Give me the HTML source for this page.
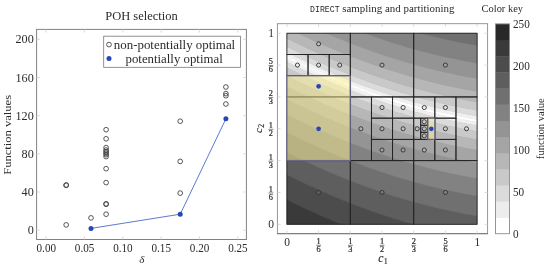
<!DOCTYPE html>
<html lang="en"><head><meta charset="utf-8"><title>DIRECT POH selection</title>
<style>
html,body{margin:0;padding:0;background:#fff;}
body{width:550px;height:268px;overflow:hidden;}
svg{display:block;font-family:"Liberation Serif", "DejaVu Serif", serif;fill:#2b2b2b;}
svg text{fill:#2b2b2b;stroke:none;}
</style></head><body>
<svg width="550" height="268" viewBox="0 0 550 268">
<rect width="550" height="268" fill="#fff"/>
<rect x="36.6" y="29.4" width="209.80" height="210.10" fill="#fff" stroke="#828282" stroke-width="1"/>
<path d="M46.10 239.5v-3.2M46.10 29.4v3.2M84.42 239.5v-3.2M84.42 29.4v3.2M122.74 239.5v-3.2M122.74 29.4v3.2M161.06 239.5v-3.2M161.06 29.4v3.2M199.38 239.5v-3.2M199.38 29.4v3.2M237.70 239.5v-3.2M237.70 29.4v3.2M36.6 230.20h3.2M246.4 230.20h-3.2M36.6 192.02h3.2M246.4 192.02h-3.2M36.6 153.84h3.2M246.4 153.84h-3.2M36.6 115.66h3.2M246.4 115.66h-3.2M36.6 77.48h3.2M246.4 77.48h-3.2M36.6 39.30h3.2M246.4 39.30h-3.2" stroke="#d2d2d2" stroke-width="0.8" fill="none"/>
<text x="33.8" y="234.30" font-size="12.2" text-anchor="end">0</text>
<text x="33.8" y="196.12" font-size="12.2" text-anchor="end">40</text>
<text x="33.8" y="157.94" font-size="12.2" text-anchor="end">80</text>
<text x="33.8" y="119.76" font-size="12.2" text-anchor="end">120</text>
<text x="33.8" y="81.58" font-size="12.2" text-anchor="end">160</text>
<text x="33.8" y="43.40" font-size="12.2" text-anchor="end">200</text>
<text x="46.30" y="251.7" font-size="12.2" text-anchor="middle" textLength="19.5" lengthAdjust="spacingAndGlyphs">0.00</text>
<text x="84.62" y="251.7" font-size="12.2" text-anchor="middle" textLength="19.5" lengthAdjust="spacingAndGlyphs">0.05</text>
<text x="122.94" y="251.7" font-size="12.2" text-anchor="middle" textLength="19.5" lengthAdjust="spacingAndGlyphs">0.10</text>
<text x="161.26" y="251.7" font-size="12.2" text-anchor="middle" textLength="19.5" lengthAdjust="spacingAndGlyphs">0.15</text>
<text x="199.58" y="251.7" font-size="12.2" text-anchor="middle" textLength="19.5" lengthAdjust="spacingAndGlyphs">0.20</text>
<text x="237.90" y="251.7" font-size="12.2" text-anchor="middle" textLength="19.5" lengthAdjust="spacingAndGlyphs">0.25</text>
<text transform="translate(10.7 134.9) rotate(-90)" font-size="10.8" text-anchor="middle" textLength="79.9" lengthAdjust="spacingAndGlyphs">Function values</text>
<text x="141.8" y="263.4" font-size="11" font-style="italic" text-anchor="middle">δ</text>
<text x="141.5" y="20.1" font-size="12" text-anchor="middle" textLength="72.4" lengthAdjust="spacingAndGlyphs">POH selection</text>
<polyline points="91.01,228.40 180.22,214.20 225.90,118.80" fill="none" stroke="#4a6ccc" stroke-width="0.9"/>
<circle cx="66.18" cy="185.00" r="2.35" fill="none" stroke="#3a3a3a" stroke-width="0.85"/>
<circle cx="66.18" cy="185.30" r="2.35" fill="none" stroke="#3a3a3a" stroke-width="0.85"/>
<circle cx="66.18" cy="224.90" r="2.35" fill="none" stroke="#3a3a3a" stroke-width="0.85"/>
<circle cx="91.01" cy="217.90" r="2.35" fill="none" stroke="#3a3a3a" stroke-width="0.85"/>
<circle cx="106.11" cy="129.70" r="2.35" fill="none" stroke="#3a3a3a" stroke-width="0.85"/>
<circle cx="106.11" cy="138.80" r="2.35" fill="none" stroke="#3a3a3a" stroke-width="0.85"/>
<circle cx="106.11" cy="147.60" r="2.35" fill="none" stroke="#3a3a3a" stroke-width="0.85"/>
<circle cx="106.11" cy="150.00" r="2.35" fill="none" stroke="#3a3a3a" stroke-width="0.85"/>
<circle cx="106.11" cy="151.60" r="2.35" fill="none" stroke="#3a3a3a" stroke-width="0.85"/>
<circle cx="106.11" cy="153.10" r="2.35" fill="none" stroke="#3a3a3a" stroke-width="0.85"/>
<circle cx="106.11" cy="154.60" r="2.35" fill="none" stroke="#3a3a3a" stroke-width="0.85"/>
<circle cx="106.11" cy="156.60" r="2.35" fill="none" stroke="#3a3a3a" stroke-width="0.85"/>
<circle cx="106.11" cy="168.70" r="2.35" fill="none" stroke="#3a3a3a" stroke-width="0.85"/>
<circle cx="106.11" cy="182.60" r="2.35" fill="none" stroke="#3a3a3a" stroke-width="0.85"/>
<circle cx="106.11" cy="203.80" r="2.35" fill="none" stroke="#3a3a3a" stroke-width="0.85"/>
<circle cx="106.11" cy="204.30" r="2.35" fill="none" stroke="#3a3a3a" stroke-width="0.85"/>
<circle cx="106.11" cy="214.20" r="2.35" fill="none" stroke="#3a3a3a" stroke-width="0.85"/>
<circle cx="180.22" cy="121.20" r="2.35" fill="none" stroke="#3a3a3a" stroke-width="0.85"/>
<circle cx="180.22" cy="161.40" r="2.35" fill="none" stroke="#3a3a3a" stroke-width="0.85"/>
<circle cx="180.22" cy="193.10" r="2.35" fill="none" stroke="#3a3a3a" stroke-width="0.85"/>
<circle cx="225.90" cy="87.00" r="2.35" fill="none" stroke="#3a3a3a" stroke-width="0.85"/>
<circle cx="225.90" cy="93.60" r="2.35" fill="none" stroke="#3a3a3a" stroke-width="0.85"/>
<circle cx="225.90" cy="95.70" r="2.35" fill="none" stroke="#3a3a3a" stroke-width="0.85"/>
<circle cx="225.90" cy="104.00" r="2.35" fill="none" stroke="#3a3a3a" stroke-width="0.85"/>
<circle cx="91.01" cy="228.40" r="2.5" fill="#2a46b4"/>
<circle cx="180.22" cy="214.20" r="2.5" fill="#2a46b4"/>
<circle cx="225.90" cy="118.80" r="2.5" fill="#2a46b4"/>
<rect x="103.7" y="36.2" width="136.7" height="31.1" fill="#fff" stroke="#777" stroke-width="0.8"/>
<circle cx="109.00" cy="44.60" r="2.35" fill="none" stroke="#3a3a3a" stroke-width="0.85"/>
<circle cx="109" cy="58.5" r="2.5" fill="#2a46b4"/>
<text x="113.8" y="48.7" font-size="12.8" textLength="121.4" lengthAdjust="spacingAndGlyphs">non-potentially optimal</text>
<text x="125.5" y="63.2" font-size="12.8" textLength="97.2" lengthAdjust="spacingAndGlyphs">potentially optimal</text>
<rect x="277.4" y="23.7" width="210.20" height="209.90" fill="#fff" stroke="#8c8c8c" stroke-width="0.9"/>
<path d="M276.95 233.6H488.05" stroke="#808080" stroke-width="1.1"/>
<path d="M286.90 233.6v-3.2M286.90 23.7v3.2M277.4 224.30h3.2M487.6 224.30h-3.2M318.60 233.6v-3.2M318.60 23.7v3.2M277.4 192.46h3.2M487.6 192.46h-3.2M350.30 233.6v-3.2M350.30 23.7v3.2M277.4 160.62h3.2M487.6 160.62h-3.2M382.00 233.6v-3.2M382.00 23.7v3.2M277.4 128.78h3.2M487.6 128.78h-3.2M413.70 233.6v-3.2M413.70 23.7v3.2M277.4 96.93h3.2M487.6 96.93h-3.2M445.40 233.6v-3.2M445.40 23.7v3.2M277.4 65.09h3.2M487.6 65.09h-3.2M477.10 233.6v-3.2M477.10 23.7v3.2M277.4 33.25h3.2M487.6 33.25h-3.2" stroke="#d2d2d2" stroke-width="0.8" fill="none"/>
<g stroke-width="0.35" stroke-linejoin="round">
<rect x="286.9" y="33.25" width="190.20" height="191.05" fill="#949494"/>
<path d="M466.0 120.1L470.8 121.1L477.1 121.9L477.1 120.1L477.1 119.5L470.8 118.7L469.1 118.2L464.4 117.2L458.6 116.2L458.1 116.1L451.7 114.8L449.8 114.3L445.4 113.2L441.0 112.4L439.1 111.9L432.7 110.6L432.5 110.4L426.4 109.0L425.3 108.5L420.0 107.1L418.5 106.6L413.7 105.2L411.5 104.7L407.4 103.4L404.8 102.7L401.0 101.6L398.5 100.8L394.7 99.6L392.4 98.9L388.3 97.6L386.8 96.9L382.0 95.4L379.9 95.0L375.7 93.6L373.3 93.1L369.3 91.6L366.9 93.1L369.3 93.9L372.1 95.0L375.7 96.2L377.3 96.9L382.0 98.4L383.9 98.9L388.3 100.3L390.2 100.8L394.7 102.2L396.4 102.7L401.0 104.1L402.6 104.7L407.4 106.1L408.8 106.6L413.7 108.0L415.4 108.5L420.0 109.8L422.7 110.4L426.4 111.4L430.5 112.4L432.7 113.0L438.8 114.3L439.1 114.4L445.4 115.7L446.9 116.2L451.7 117.4L456.2 118.2L458.1 118.6L464.4 119.6ZM362.0 91.1L363.0 91.5L366.7 91.1L363.5 89.2L363.0 89.0L359.9 89.2ZM353.3 87.3L356.6 88.9L358.7 87.3L356.6 86.5L354.2 85.4L350.3 84.0L347.3 83.4L344.0 81.9L341.7 83.4L344.0 84.3L346.3 85.4L350.3 86.8ZM337.6 81.5L337.6 81.5L338.1 81.5L339.0 79.6L337.6 79.1L335.1 77.6L331.3 76.2L327.5 75.7L324.9 73.8L323.6 75.7L324.9 76.3L327.4 77.6L331.3 79.1L335.0 79.6ZM315.4 71.8L318.6 73.3L321.3 71.8L318.6 70.8ZM310.5 69.9L312.3 70.6L314.9 69.9L312.3 68.3ZM302.8 66.1L305.9 67.5L308.6 66.1L305.9 65.0ZM298.4 64.1L299.6 64.6L301.7 64.1L299.6 62.2L299.6 62.2L299.5 62.2ZM289.5 60.3L293.2 61.7L297.0 60.3L293.2 58.8ZM286.9 56.4L286.9 58.2L288.2 56.4L286.9 55.8Z" fill="#ffffff" stroke="#ffffff" fill-rule="evenodd"/>
<path d="M468.1 124.0L470.8 124.5L477.1 125.5L477.1 124.0L477.1 122.0L477.1 121.9L470.8 121.1L466.0 120.1L464.4 119.6L458.1 118.6L456.2 118.2L451.7 117.4L446.9 116.2L445.4 115.7L439.1 114.4L438.8 114.3L432.7 113.0L430.5 112.4L426.4 111.4L422.7 110.4L420.0 109.8L415.4 108.5L413.7 108.0L408.8 106.6L407.4 106.1L402.6 104.7L401.0 104.1L396.4 102.7L394.7 102.2L390.2 100.8L388.3 100.3L383.9 98.9L382.0 98.4L377.3 96.9L375.7 96.2L372.1 95.0L369.3 93.9L366.9 93.1L369.3 91.6L373.3 93.1L375.7 93.6L379.9 95.0L382.0 95.4L386.8 96.9L388.3 97.6L392.4 98.9L394.7 99.6L398.5 100.8L401.0 101.6L404.8 102.7L407.4 103.4L411.5 104.7L413.7 105.2L418.5 106.6L420.0 107.1L425.3 108.5L426.4 109.0L432.5 110.4L432.7 110.6L439.1 111.9L441.0 112.4L445.4 113.2L449.8 114.3L451.7 114.8L458.1 116.1L458.6 116.2L464.4 117.2L469.1 118.2L470.8 118.7L477.1 119.5L477.1 118.2L477.1 116.2L477.1 116.1L470.8 115.0L467.0 114.3L464.4 113.8L458.1 112.6L457.0 112.4L451.7 111.3L447.9 110.4L445.4 109.9L439.3 108.5L439.1 108.5L432.7 106.9L431.4 106.6L426.4 105.3L423.8 104.7L420.0 103.6L416.6 102.7L413.7 101.9L409.7 100.8L407.4 100.1L403.1 98.9L401.0 98.2L396.8 96.9L394.7 96.3L390.7 95.0L388.3 94.3L384.8 93.1L382.0 92.2L379.0 91.1L375.7 90.0L373.4 89.2L369.3 87.8L367.9 87.3L363.0 85.5L362.6 85.4L357.4 83.4L356.6 83.1L352.5 81.5L350.3 80.7L347.6 79.6L344.0 78.2L342.7 77.6L337.8 75.7L337.6 75.6L333.4 73.8L331.3 72.9L328.9 71.8L324.9 70.2L324.3 69.9L319.9 68.0L318.6 67.4L315.7 66.1L312.3 64.6L311.4 64.1L307.2 62.2L305.9 61.6L303.2 60.3L299.6 58.6L299.0 58.3L295.1 56.4L293.2 55.5L291.3 54.5L287.2 52.5L286.9 52.4L286.9 52.5L286.9 54.5L286.9 55.8L288.2 56.4L286.9 58.2L286.9 58.3L286.9 60.3L286.9 61.9L287.5 62.2L291.3 64.1L293.2 65.0L295.2 66.1L299.4 68.0L299.6 68.1L303.3 69.9L305.9 71.1L307.4 71.8L311.7 73.8L312.3 74.0L315.8 75.7L318.6 76.9L320.1 77.6L324.7 79.6L324.9 79.7L329.0 81.5L331.3 82.4L333.5 83.4L337.6 85.1L338.3 85.4L343.0 87.3L344.0 87.7L347.8 89.2L350.3 90.2L352.7 91.1L356.6 92.6L357.8 93.1L363.0 95.0L363.1 95.0L368.3 96.9L369.3 97.3L373.7 98.9L375.7 99.5L379.3 100.8L382.0 101.7L385.1 102.7L388.3 103.8L391.1 104.7L394.7 105.8L397.2 106.6L401.0 107.7L403.6 108.5L407.4 109.6L410.3 110.4L413.7 111.4L417.2 112.4L420.0 113.1L424.5 114.3L426.4 114.8L432.2 116.2L432.7 116.4L439.1 117.9L440.2 118.2L445.4 119.4L448.8 120.1L451.7 120.7L458.1 122.0L458.1 122.0L464.4 123.3ZM293.2 61.7L289.5 60.3L293.2 58.8L297.0 60.3ZM299.6 64.6L298.4 64.1L299.5 62.2L299.6 62.2L299.6 62.2L301.7 64.1ZM305.9 67.5L302.8 66.1L305.9 65.0L308.6 66.1ZM312.3 70.6L310.5 69.9L312.3 68.3L314.9 69.9ZM318.6 73.3L315.4 71.8L318.6 70.8L321.3 71.8ZM337.6 81.5L337.6 81.5L335.0 79.6L331.3 79.1L327.4 77.6L324.9 76.3L323.6 75.7L324.9 73.8L327.5 75.7L331.3 76.2L335.1 77.6L337.6 79.1L339.0 79.6L338.1 81.5ZM356.6 88.9L353.3 87.3L350.3 86.8L346.3 85.4L344.0 84.3L341.7 83.4L344.0 81.9L347.3 83.4L350.3 84.0L354.2 85.4L356.6 86.5L358.7 87.3ZM363.0 91.5L362.0 91.1L359.9 89.2L363.0 89.0L363.5 89.2L366.7 91.1Z" fill="#ededed" stroke="#ededed" fill-rule="evenodd"/>
<path d="M467.7 129.7L470.8 130.3L477.1 131.4L477.1 129.7L477.1 127.8L477.1 125.9L477.1 125.5L470.8 124.5L468.1 124.0L464.4 123.3L458.1 122.0L458.1 122.0L451.7 120.7L448.8 120.1L445.4 119.4L440.2 118.2L439.1 117.9L432.7 116.4L432.2 116.2L426.4 114.8L424.5 114.3L420.0 113.1L417.2 112.4L413.7 111.4L410.3 110.4L407.4 109.6L403.6 108.5L401.0 107.7L397.2 106.6L394.7 105.8L391.1 104.7L388.3 103.8L385.1 102.7L382.0 101.7L379.3 100.8L375.7 99.5L373.7 98.9L369.3 97.3L368.3 96.9L363.1 95.0L363.0 95.0L357.8 93.1L356.6 92.6L352.7 91.1L350.3 90.2L347.8 89.2L344.0 87.7L343.0 87.3L338.3 85.4L337.6 85.1L333.5 83.4L331.3 82.4L329.0 81.5L324.9 79.7L324.7 79.6L320.1 77.6L318.6 76.9L315.8 75.7L312.3 74.0L311.7 73.8L307.4 71.8L305.9 71.1L303.3 69.9L299.6 68.1L299.4 68.0L295.2 66.1L293.2 65.0L291.3 64.1L287.5 62.2L286.9 61.9L286.9 62.2L286.9 64.1L286.9 66.1L286.9 67.7L287.4 68.0L291.2 69.9L293.2 70.9L295.2 71.8L299.2 73.8L299.6 73.9L303.2 75.7L305.9 77.0L307.3 77.6L311.5 79.6L312.3 79.9L315.7 81.5L318.6 82.8L320.0 83.4L324.5 85.4L324.9 85.6L328.9 87.3L331.3 88.3L333.4 89.2L337.6 90.9L338.1 91.1L342.8 93.1L344.0 93.5L347.6 95.0L350.3 96.0L352.6 96.9L356.6 98.5L357.6 98.9L362.8 100.8L363.0 100.8L368.1 102.7L369.3 103.2L373.5 104.7L375.7 105.4L379.1 106.6L382.0 107.6L384.9 108.5L388.3 109.6L390.9 110.4L394.7 111.7L397.0 112.4L401.0 113.6L403.4 114.3L407.4 115.5L410.0 116.2L413.7 117.3L417.0 118.2L420.0 119.0L424.2 120.1L426.4 120.7L431.8 122.0L432.7 122.2L439.1 123.8L439.9 124.0L445.4 125.2L448.4 125.9L451.7 126.6L457.7 127.8L458.1 127.9L464.4 129.2ZM467.0 114.3L470.8 115.0L477.1 116.1L477.1 114.3L477.1 112.4L477.1 110.4L477.1 110.2L470.8 109.1L467.4 108.5L464.4 108.0L458.1 106.7L457.4 106.6L451.7 105.4L448.3 104.7L445.4 104.0L439.7 102.7L439.1 102.6L432.7 101.1L431.7 100.8L426.4 99.5L424.1 98.9L420.0 97.8L416.9 96.9L413.7 96.0L410.0 95.0L407.4 94.2L403.4 93.1L401.0 92.4L397.0 91.1L394.7 90.4L390.9 89.2L388.3 88.4L385.0 87.3L382.0 86.3L379.2 85.4L375.7 84.2L373.6 83.4L369.3 81.9L368.1 81.5L363.0 79.6L362.8 79.6L357.6 77.6L356.6 77.3L352.6 75.7L350.3 74.8L347.7 73.8L344.0 72.3L342.8 71.8L338.0 69.9L337.6 69.7L333.5 68.0L331.3 67.1L329.0 66.1L324.9 64.4L324.4 64.1L320.1 62.2L318.6 61.6L315.8 60.3L312.3 58.7L311.5 58.3L307.3 56.4L305.9 55.8L303.3 54.5L299.6 52.8L299.1 52.5L295.2 50.6L293.2 49.7L291.3 48.7L287.3 46.8L286.9 46.5L286.9 46.8L286.9 48.7L286.9 50.6L286.9 52.4L287.2 52.5L291.3 54.5L293.2 55.5L295.1 56.4L299.0 58.3L299.6 58.6L303.2 60.3L305.9 61.6L307.2 62.2L311.4 64.1L312.3 64.6L315.7 66.1L318.6 67.4L319.9 68.0L324.3 69.9L324.9 70.2L328.9 71.8L331.3 72.9L333.4 73.8L337.6 75.6L337.8 75.7L342.7 77.6L344.0 78.2L347.6 79.6L350.3 80.7L352.5 81.5L356.6 83.1L357.4 83.4L362.6 85.4L363.0 85.5L367.9 87.3L369.3 87.8L373.4 89.2L375.7 90.0L379.0 91.1L382.0 92.2L384.8 93.1L388.3 94.3L390.7 95.0L394.7 96.3L396.8 96.9L401.0 98.2L403.1 98.9L407.4 100.1L409.7 100.8L413.7 101.9L416.6 102.7L420.0 103.6L423.8 104.7L426.4 105.3L431.4 106.6L432.7 106.9L439.1 108.5L439.3 108.5L445.4 109.9L447.9 110.4L451.7 111.3L457.0 112.4L458.1 112.6L464.4 113.8Z" fill="#dbdbdb" stroke="#dbdbdb" fill-rule="evenodd"/>
<path d="M475.7 139.4L477.1 139.6L477.1 139.4L477.1 137.5L477.1 135.5L477.1 133.6L477.1 131.7L477.1 131.4L470.8 130.3L467.7 129.7L464.4 129.2L458.1 127.9L457.7 127.8L451.7 126.6L448.4 125.9L445.4 125.2L439.9 124.0L439.1 123.8L432.7 122.2L431.8 122.0L426.4 120.7L424.2 120.1L420.0 119.0L417.0 118.2L413.7 117.3L410.0 116.2L407.4 115.5L403.4 114.3L401.0 113.6L397.0 112.4L394.7 111.7L390.9 110.4L388.3 109.6L384.9 108.5L382.0 107.6L379.1 106.6L375.7 105.4L373.5 104.7L369.3 103.2L368.1 102.7L363.0 100.8L362.8 100.8L357.6 98.9L356.6 98.5L352.6 96.9L350.3 96.0L347.6 95.0L344.0 93.5L342.8 93.1L338.1 91.1L337.6 90.9L333.4 89.2L331.3 88.3L328.9 87.3L324.9 85.6L324.5 85.4L320.0 83.4L318.6 82.8L315.7 81.5L312.3 79.9L311.5 79.6L307.3 77.6L305.9 77.0L303.2 75.7L299.6 73.9L299.2 73.8L295.2 71.8L293.2 70.9L291.2 69.9L287.4 68.0L286.9 67.7L286.9 68.0L286.9 69.9L286.9 71.8L286.9 73.8L286.9 75.7L286.9 76.0L290.2 77.6L293.2 79.1L294.2 79.6L298.1 81.5L299.6 82.2L302.1 83.4L305.9 85.2L306.3 85.4L310.4 87.3L312.3 88.1L314.6 89.2L318.6 91.0L318.9 91.1L323.3 93.1L324.9 93.8L327.7 95.0L331.3 96.5L332.2 96.9L336.9 98.9L337.6 99.2L341.6 100.8L344.0 101.8L346.4 102.7L350.3 104.3L351.3 104.7L356.3 106.6L356.6 106.7L361.4 108.5L363.0 109.1L366.7 110.4L369.3 111.4L372.1 112.4L375.7 113.6L377.6 114.3L382.0 115.8L383.4 116.2L388.3 117.9L389.3 118.2L394.7 119.9L395.4 120.1L401.0 121.8L401.7 122.0L407.4 123.7L408.2 124.0L413.7 125.5L415.1 125.9L420.0 127.2L422.2 127.8L426.4 128.9L429.7 129.7L432.7 130.5L437.7 131.7L439.1 132.0L445.4 133.5L446.1 133.6L451.7 134.8L455.1 135.5L458.1 136.1L464.4 137.4L464.9 137.5L470.8 138.5ZM467.4 108.5L470.8 109.1L477.1 110.2L477.1 108.5L477.1 106.6L477.1 104.7L477.1 102.7L477.1 102.0L470.8 100.9L470.2 100.8L464.4 99.7L460.0 98.9L458.1 98.5L451.7 97.2L450.6 96.9L445.4 95.8L442.0 95.0L439.1 94.3L433.8 93.1L432.7 92.8L426.4 91.2L426.1 91.1L420.0 89.6L418.8 89.2L413.7 87.8L411.8 87.3L407.4 86.0L405.1 85.4L401.0 84.1L398.7 83.4L394.7 82.2L392.5 81.5L388.3 80.2L386.5 79.6L382.0 78.1L380.7 77.6L375.7 75.9L375.0 75.7L369.5 73.8L369.3 73.7L364.2 71.8L363.0 71.4L359.0 69.9L356.6 69.0L353.9 68.0L350.3 66.6L349.0 66.1L344.1 64.1L344.0 64.1L339.3 62.2L337.6 61.5L334.7 60.3L331.3 58.8L330.1 58.3L325.6 56.4L324.9 56.1L321.2 54.5L318.6 53.3L316.9 52.5L312.6 50.6L312.3 50.5L308.5 48.7L305.9 47.5L304.3 46.8L300.2 44.8L299.6 44.5L296.3 42.9L293.2 41.5L292.3 41.0L288.4 39.0L286.9 38.3L286.9 39.0L286.9 41.0L286.9 42.9L286.9 44.8L286.9 46.5L287.3 46.8L291.3 48.7L293.2 49.7L295.2 50.6L299.1 52.5L299.6 52.8L303.3 54.5L305.9 55.8L307.3 56.4L311.5 58.3L312.3 58.7L315.8 60.3L318.6 61.6L320.1 62.2L324.4 64.1L324.9 64.4L329.0 66.1L331.3 67.1L333.5 68.0L337.6 69.7L338.0 69.9L342.8 71.8L344.0 72.3L347.7 73.8L350.3 74.8L352.6 75.7L356.6 77.3L357.6 77.6L362.8 79.6L363.0 79.6L368.1 81.5L369.3 81.9L373.6 83.4L375.7 84.2L379.2 85.4L382.0 86.3L385.0 87.3L388.3 88.4L390.9 89.2L394.7 90.4L397.0 91.1L401.0 92.4L403.4 93.1L407.4 94.2L410.0 95.0L413.7 96.0L416.9 96.9L420.0 97.8L424.1 98.9L426.4 99.5L431.7 100.8L432.7 101.1L439.1 102.6L439.7 102.7L445.4 104.0L448.3 104.7L451.7 105.4L457.4 106.6L458.1 106.7L464.4 108.0Z" fill="#c9c9c9" stroke="#c9c9c9" fill-rule="evenodd"/>
<path d="M470.3 149.0L470.8 149.1L477.1 150.2L477.1 149.0L477.1 147.1L477.1 145.2L477.1 143.2L477.1 141.3L477.1 139.6L475.7 139.4L470.8 138.5L464.9 137.5L464.4 137.4L458.1 136.1L455.1 135.5L451.7 134.8L446.1 133.6L445.4 133.5L439.1 132.0L437.7 131.7L432.7 130.5L429.7 129.7L426.4 128.9L422.2 127.8L420.0 127.2L415.1 125.9L413.7 125.5L408.2 124.0L407.4 123.7L401.7 122.0L401.0 121.8L395.4 120.1L394.7 119.9L389.3 118.2L388.3 117.9L383.4 116.2L382.0 115.8L377.6 114.3L375.7 113.6L372.1 112.4L369.3 111.4L366.7 110.4L363.0 109.1L361.4 108.5L356.6 106.7L356.3 106.6L351.3 104.7L350.3 104.3L346.4 102.7L344.0 101.8L341.6 100.8L337.6 99.2L336.9 98.9L332.2 96.9L331.3 96.5L327.7 95.0L324.9 93.8L323.3 93.1L318.9 91.1L318.6 91.0L314.6 89.2L312.3 88.1L310.4 87.3L306.3 85.4L305.9 85.2L302.1 83.4L299.6 82.2L298.1 81.5L294.2 79.6L293.2 79.1L290.2 77.6L286.9 76.0L286.9 77.6L286.9 79.6L286.9 81.5L286.9 83.4L286.9 85.4L286.9 86.5L288.4 87.3L292.3 89.2L293.2 89.7L296.2 91.1L299.6 92.8L300.2 93.1L304.3 95.0L305.9 95.8L308.4 96.9L312.3 98.7L312.6 98.9L316.8 100.8L318.6 101.6L321.1 102.7L324.9 104.4L325.6 104.7L330.0 106.6L331.3 107.1L334.6 108.5L337.6 109.8L339.3 110.4L344.0 112.4L344.0 112.4L348.9 114.3L350.3 114.9L353.8 116.2L356.6 117.3L358.9 118.2L363.0 119.7L364.1 120.1L369.3 122.0L369.4 122.0L374.9 124.0L375.7 124.2L380.5 125.9L382.0 126.4L386.3 127.8L388.3 128.5L392.3 129.7L394.7 130.5L398.6 131.7L401.0 132.4L405.0 133.6L407.4 134.3L411.7 135.5L413.7 136.1L418.7 137.5L420.0 137.8L426.0 139.4L426.4 139.5L432.7 141.1L433.7 141.3L439.1 142.6L441.9 143.2L445.4 144.0L450.6 145.2L451.7 145.4L458.1 146.7L460.0 147.1L464.4 148.0ZM470.2 100.8L470.8 100.9L477.1 102.0L477.1 100.8L477.1 98.9L477.1 96.9L477.1 95.0L477.1 93.1L477.1 91.4L475.6 91.1L470.8 90.3L464.8 89.2L464.4 89.1L458.1 87.9L455.1 87.3L451.7 86.6L446.1 85.4L445.4 85.2L439.1 83.7L437.7 83.4L432.7 82.2L429.8 81.5L426.4 80.6L422.3 79.6L420.0 79.0L415.2 77.6L413.7 77.2L408.3 75.7L407.4 75.4L401.8 73.8L401.0 73.5L395.5 71.8L394.7 71.6L389.4 69.9L388.3 69.6L383.5 68.0L382.0 67.5L377.8 66.1L375.7 65.3L372.2 64.1L369.3 63.1L366.8 62.2L363.0 60.8L361.5 60.3L356.6 58.4L356.4 58.3L351.4 56.4L350.3 56.0L346.5 54.5L344.0 53.5L341.7 52.5L337.6 50.9L336.9 50.6L332.3 48.7L331.3 48.3L327.8 46.8L324.9 45.5L323.4 44.8L318.9 42.9L318.6 42.7L314.7 41.0L312.3 39.9L310.5 39.0L306.3 37.1L305.9 36.9L302.2 35.2L299.6 33.9L298.2 33.2L293.2 33.2L286.9 33.2L286.9 35.2L286.9 37.1L286.9 38.3L288.4 39.0L292.3 41.0L293.2 41.5L296.3 42.9L299.6 44.5L300.2 44.8L304.3 46.8L305.9 47.5L308.5 48.7L312.3 50.5L312.6 50.6L316.9 52.5L318.6 53.3L321.2 54.5L324.9 56.1L325.6 56.4L330.1 58.3L331.3 58.8L334.7 60.3L337.6 61.5L339.3 62.2L344.0 64.1L344.1 64.1L349.0 66.1L350.3 66.6L353.9 68.0L356.6 69.0L359.0 69.9L363.0 71.4L364.2 71.8L369.3 73.7L369.5 73.8L375.0 75.7L375.7 75.9L380.7 77.6L382.0 78.1L386.5 79.6L388.3 80.2L392.5 81.5L394.7 82.2L398.7 83.4L401.0 84.1L405.1 85.4L407.4 86.0L411.8 87.3L413.7 87.8L418.8 89.2L420.0 89.6L426.1 91.1L426.4 91.2L432.7 92.8L433.8 93.1L439.1 94.3L442.0 95.0L445.4 95.8L450.6 96.9L451.7 97.2L458.1 98.5L460.0 98.9L464.4 99.7Z" fill="#b7b7b7" stroke="#b7b7b7" fill-rule="evenodd"/>
<path d="M473.5 162.5L477.1 163.2L477.1 162.5L477.1 160.6L477.1 158.7L477.1 156.8L477.1 154.8L477.1 152.9L477.1 151.0L477.1 150.2L470.8 149.1L470.3 149.0L464.4 148.0L460.0 147.1L458.1 146.7L451.7 145.4L450.6 145.2L445.4 144.0L441.9 143.2L439.1 142.6L433.7 141.3L432.7 141.1L426.4 139.5L426.0 139.4L420.0 137.8L418.7 137.5L413.7 136.1L411.7 135.5L407.4 134.3L405.0 133.6L401.0 132.4L398.6 131.7L394.7 130.5L392.3 129.7L388.3 128.5L386.3 127.8L382.0 126.4L380.5 125.9L375.7 124.2L374.9 124.0L369.4 122.0L369.3 122.0L364.1 120.1L363.0 119.7L358.9 118.2L356.6 117.3L353.8 116.2L350.3 114.9L348.9 114.3L344.0 112.4L344.0 112.4L339.3 110.4L337.6 109.8L334.6 108.5L331.3 107.1L330.0 106.6L325.6 104.7L324.9 104.4L321.1 102.7L318.6 101.6L316.8 100.8L312.6 98.9L312.3 98.7L308.4 96.9L305.9 95.8L304.3 95.0L300.2 93.1L299.6 92.8L296.2 91.1L293.2 89.7L292.3 89.2L288.4 87.3L286.9 86.5L286.9 87.3L286.9 89.2L286.9 91.1L286.9 93.1L286.9 95.0L286.9 96.9L286.9 98.9L286.9 99.5L289.5 100.8L293.2 102.6L293.4 102.7L297.4 104.7L299.6 105.7L301.4 106.6L305.5 108.5L305.9 108.7L309.6 110.4L312.3 111.7L313.8 112.4L318.1 114.3L318.6 114.5L322.4 116.2L324.9 117.3L326.8 118.2L331.3 120.1L331.4 120.1L335.9 122.0L337.6 122.7L340.6 124.0L344.0 125.3L345.4 125.9L350.3 127.8L350.3 127.8L355.3 129.7L356.6 130.3L360.4 131.7L363.0 132.6L365.6 133.6L369.3 134.9L371.0 135.5L375.7 137.2L376.5 137.5L382.0 139.3L382.2 139.4L388.1 141.3L388.3 141.4L394.1 143.2L394.7 143.4L400.4 145.2L401.0 145.4L406.9 147.1L407.4 147.2L413.7 149.0L413.7 149.0L420.0 150.8L420.8 151.0L426.4 152.4L428.2 152.9L432.7 154.0L436.1 154.8L439.1 155.5L444.4 156.8L445.4 157.0L451.7 158.4L453.3 158.7L458.1 159.7L462.9 160.6L464.4 160.9L470.8 162.1ZM475.6 91.1L477.1 91.4L477.1 91.1L477.1 89.2L477.1 87.3L477.1 85.4L477.1 83.4L477.1 81.5L477.1 79.6L477.1 78.5L472.4 77.6L470.8 77.4L464.4 76.2L462.0 75.7L458.1 74.9L452.4 73.8L451.7 73.6L445.4 72.3L443.6 71.8L439.1 70.8L435.4 69.9L432.7 69.3L427.6 68.0L426.4 67.7L420.2 66.1L420.0 66.0L413.7 64.3L413.2 64.1L407.4 62.5L406.4 62.2L401.0 60.6L400.0 60.3L394.7 58.6L393.7 58.3L388.3 56.6L387.7 56.4L382.0 54.5L381.8 54.5L376.1 52.5L375.7 52.4L370.6 50.6L369.3 50.2L365.3 48.7L363.0 47.9L360.1 46.8L356.6 45.5L354.9 44.8L350.3 43.1L349.9 42.9L345.0 41.0L344.0 40.5L340.3 39.0L337.6 38.0L335.6 37.1L331.3 35.3L331.0 35.2L326.5 33.2L324.9 33.2L318.6 33.2L312.3 33.2L305.9 33.2L299.6 33.2L298.2 33.2L299.6 33.9L302.2 35.2L305.9 36.9L306.3 37.1L310.5 39.0L312.3 39.9L314.7 41.0L318.6 42.7L318.9 42.9L323.4 44.8L324.9 45.5L327.8 46.8L331.3 48.3L332.3 48.7L336.9 50.6L337.6 50.9L341.7 52.5L344.0 53.5L346.5 54.5L350.3 56.0L351.4 56.4L356.4 58.3L356.6 58.4L361.5 60.3L363.0 60.8L366.8 62.2L369.3 63.1L372.2 64.1L375.7 65.3L377.8 66.1L382.0 67.5L383.5 68.0L388.3 69.6L389.4 69.9L394.7 71.6L395.5 71.8L401.0 73.5L401.8 73.8L407.4 75.4L408.3 75.7L413.7 77.2L415.2 77.6L420.0 79.0L422.3 79.6L426.4 80.6L429.8 81.5L432.7 82.2L437.7 83.4L439.1 83.7L445.4 85.2L446.1 85.4L451.7 86.6L455.1 87.3L458.1 87.9L464.4 89.1L464.8 89.2L470.8 90.3Z" fill="#a5a5a5" stroke="#a5a5a5" fill-rule="evenodd"/>
<path d="M474.3 178.0L477.1 178.5L477.1 178.0L477.1 176.1L477.1 174.1L477.1 172.2L477.1 170.3L477.1 168.3L477.1 166.4L477.1 164.5L477.1 163.2L473.5 162.5L470.8 162.1L464.4 160.9L462.9 160.6L458.1 159.7L453.3 158.7L451.7 158.4L445.4 157.0L444.4 156.8L439.1 155.5L436.1 154.8L432.7 154.0L428.2 152.9L426.4 152.4L420.8 151.0L420.0 150.8L413.7 149.0L413.7 149.0L407.4 147.2L406.9 147.1L401.0 145.4L400.4 145.2L394.7 143.4L394.1 143.2L388.3 141.4L388.1 141.3L382.2 139.4L382.0 139.3L376.5 137.5L375.7 137.2L371.0 135.5L369.3 134.9L365.6 133.6L363.0 132.6L360.4 131.7L356.6 130.3L355.3 129.7L350.3 127.8L350.3 127.8L345.4 125.9L344.0 125.3L340.6 124.0L337.6 122.7L335.9 122.0L331.4 120.1L331.3 120.1L326.8 118.2L324.9 117.3L322.4 116.2L318.6 114.5L318.1 114.3L313.8 112.4L312.3 111.7L309.6 110.4L305.9 108.7L305.5 108.5L301.4 106.6L299.6 105.7L297.4 104.7L293.4 102.7L293.2 102.6L289.5 100.8L286.9 99.5L286.9 100.8L286.9 102.7L286.9 104.7L286.9 106.6L286.9 108.5L286.9 110.4L286.9 112.4L286.9 114.3L286.9 114.8L289.8 116.2L293.2 117.9L293.7 118.2L297.6 120.1L299.6 121.0L301.7 122.0L305.7 124.0L305.9 124.0L309.9 125.9L312.3 127.0L314.1 127.8L318.4 129.7L318.6 129.8L322.7 131.7L324.9 132.6L327.2 133.6L331.3 135.4L331.7 135.5L336.3 137.5L337.6 138.0L341.0 139.4L344.0 140.6L345.7 141.3L350.3 143.1L350.6 143.2L355.6 145.2L356.6 145.6L360.7 147.1L363.0 147.9L366.0 149.0L369.3 150.2L371.4 151.0L375.7 152.5L376.9 152.9L382.0 154.6L382.6 154.8L388.3 156.7L388.5 156.8L394.5 158.7L394.7 158.7L400.8 160.6L401.0 160.7L407.4 162.5L407.4 162.5L413.7 164.4L414.2 164.5L420.0 166.1L421.3 166.4L426.4 167.7L428.7 168.3L432.7 169.3L436.6 170.3L439.1 170.9L445.0 172.2L445.4 172.3L451.7 173.7L453.9 174.1L458.1 175.0L463.6 176.1L464.4 176.2L470.8 177.4ZM472.4 77.6L477.1 78.5L477.1 77.6L477.1 75.7L477.1 73.8L477.1 71.8L477.1 69.9L477.1 68.0L477.1 66.1L477.1 64.1L477.1 63.2L471.6 62.2L470.8 62.1L464.4 60.9L461.3 60.3L458.1 59.6L451.8 58.3L451.7 58.3L445.4 56.9L443.0 56.4L439.1 55.5L434.8 54.5L432.7 54.0L427.1 52.5L426.4 52.4L420.0 50.7L419.7 50.6L413.7 49.0L412.7 48.7L407.4 47.2L406.0 46.8L401.0 45.3L399.5 44.8L394.7 43.3L393.3 42.9L388.3 41.3L387.3 41.0L382.0 39.2L381.4 39.0L375.8 37.1L375.7 37.1L370.3 35.2L369.3 34.8L364.9 33.2L363.0 33.2L356.6 33.2L350.3 33.2L344.0 33.2L337.6 33.2L331.3 33.2L326.5 33.2L331.0 35.2L331.3 35.3L335.6 37.1L337.6 38.0L340.3 39.0L344.0 40.5L345.0 41.0L349.9 42.9L350.3 43.1L354.9 44.8L356.6 45.5L360.1 46.8L363.0 47.9L365.3 48.7L369.3 50.2L370.6 50.6L375.7 52.4L376.1 52.5L381.8 54.5L382.0 54.5L387.7 56.4L388.3 56.6L393.7 58.3L394.7 58.6L400.0 60.3L401.0 60.6L406.4 62.2L407.4 62.5L413.2 64.1L413.7 64.3L420.0 66.0L420.2 66.1L426.4 67.7L427.6 68.0L432.7 69.3L435.4 69.9L439.1 70.8L443.6 71.8L445.4 72.3L451.7 73.6L452.4 73.8L458.1 74.9L462.0 75.7L464.4 76.2L470.8 77.4Z" fill="#949494" stroke="#949494" fill-rule="evenodd"/>
<path d="M472.6 195.4L477.1 196.1L477.1 195.4L477.1 193.4L477.1 191.5L477.1 189.6L477.1 187.6L477.1 185.7L477.1 183.8L477.1 181.8L477.1 179.9L477.1 178.5L474.3 178.0L470.8 177.4L464.4 176.2L463.6 176.1L458.1 175.0L453.9 174.1L451.7 173.7L445.4 172.3L445.0 172.2L439.1 170.9L436.6 170.3L432.7 169.3L428.7 168.3L426.4 167.7L421.3 166.4L420.0 166.1L414.2 164.5L413.7 164.4L407.4 162.5L407.4 162.5L401.0 160.7L400.8 160.6L394.7 158.7L394.5 158.7L388.5 156.8L388.3 156.7L382.6 154.8L382.0 154.6L376.9 152.9L375.7 152.5L371.4 151.0L369.3 150.2L366.0 149.0L363.0 147.9L360.7 147.1L356.6 145.6L355.6 145.2L350.6 143.2L350.3 143.1L345.7 141.3L344.0 140.6L341.0 139.4L337.6 138.0L336.3 137.5L331.7 135.5L331.3 135.4L327.2 133.6L324.9 132.6L322.7 131.7L318.6 129.8L318.4 129.7L314.1 127.8L312.3 127.0L309.9 125.9L305.9 124.0L305.7 124.0L301.7 122.0L299.6 121.0L297.6 120.1L293.7 118.2L293.2 117.9L289.8 116.2L286.9 114.8L286.9 116.2L286.9 118.2L286.9 120.1L286.9 122.0L286.9 124.0L286.9 125.9L286.9 127.8L286.9 129.7L286.9 131.7L286.9 132.5L289.2 133.6L293.1 135.5L293.2 135.6L297.1 137.5L299.6 138.7L301.1 139.4L305.1 141.3L305.9 141.7L309.3 143.2L312.3 144.6L313.5 145.2L317.7 147.1L318.6 147.5L322.1 149.0L324.9 150.3L326.5 151.0L331.0 152.9L331.3 153.0L335.6 154.8L337.6 155.7L340.2 156.8L344.0 158.3L345.0 158.7L349.9 160.6L350.3 160.8L354.9 162.5L356.6 163.2L360.0 164.5L363.0 165.6L365.2 166.4L369.3 167.9L370.5 168.3L375.7 170.1L376.0 170.3L381.7 172.2L382.0 172.3L387.6 174.1L388.3 174.4L393.6 176.1L394.7 176.4L399.9 178.0L401.0 178.3L406.4 179.9L407.4 180.2L413.1 181.8L413.7 182.0L420.0 183.7L420.2 183.8L426.4 185.4L427.6 185.7L432.7 187.0L435.4 187.6L439.1 188.5L443.7 189.6L445.4 190.0L451.7 191.3L452.5 191.5L458.1 192.6L462.1 193.4L464.4 193.9L470.8 195.0ZM471.6 62.2L477.1 63.2L477.1 62.2L477.1 60.3L477.1 58.3L477.1 56.4L477.1 54.5L477.1 52.5L477.1 50.6L477.1 48.7L477.1 46.8L477.1 45.5L473.2 44.8L470.8 44.4L464.4 43.2L462.7 42.9L458.1 42.0L453.2 41.0L451.7 40.7L445.4 39.3L444.3 39.0L439.1 37.8L436.0 37.1L432.7 36.3L428.2 35.2L426.4 34.7L420.8 33.2L420.0 33.2L413.7 33.2L407.4 33.2L401.0 33.2L394.7 33.2L388.3 33.2L382.0 33.2L375.7 33.2L369.3 33.2L364.9 33.2L369.3 34.8L370.3 35.2L375.7 37.1L375.8 37.1L381.4 39.0L382.0 39.2L387.3 41.0L388.3 41.3L393.3 42.9L394.7 43.3L399.5 44.8L401.0 45.3L406.0 46.8L407.4 47.2L412.7 48.7L413.7 49.0L419.7 50.6L420.0 50.7L426.4 52.4L427.1 52.5L432.7 54.0L434.8 54.5L439.1 55.5L443.0 56.4L445.4 56.9L451.7 58.3L451.8 58.3L458.1 59.6L461.3 60.3L464.4 60.9L470.8 62.1Z" fill="#828282" stroke="#828282" fill-rule="evenodd"/>
<path d="M468.6 214.7L470.8 215.1L477.1 216.1L477.1 214.7L477.1 212.7L477.1 210.8L477.1 208.9L477.1 206.9L477.1 205.0L477.1 203.1L477.1 201.1L477.1 199.2L477.1 197.3L477.1 196.1L472.6 195.4L470.8 195.0L464.4 193.9L462.1 193.4L458.1 192.6L452.5 191.5L451.7 191.3L445.4 190.0L443.7 189.6L439.1 188.5L435.4 187.6L432.7 187.0L427.6 185.7L426.4 185.4L420.2 183.8L420.0 183.7L413.7 182.0L413.1 181.8L407.4 180.2L406.4 179.9L401.0 178.3L399.9 178.0L394.7 176.4L393.6 176.1L388.3 174.4L387.6 174.1L382.0 172.3L381.7 172.2L376.0 170.3L375.7 170.1L370.5 168.3L369.3 167.9L365.2 166.4L363.0 165.6L360.0 164.5L356.6 163.2L354.9 162.5L350.3 160.8L349.9 160.6L345.0 158.7L344.0 158.3L340.2 156.8L337.6 155.7L335.6 154.8L331.3 153.0L331.0 152.9L326.5 151.0L324.9 150.3L322.1 149.0L318.6 147.5L317.7 147.1L313.5 145.2L312.3 144.6L309.3 143.2L305.9 141.7L305.1 141.3L301.1 139.4L299.6 138.7L297.1 137.5L293.2 135.6L293.1 135.5L289.2 133.6L286.9 132.5L286.9 133.6L286.9 135.5L286.9 137.5L286.9 139.4L286.9 141.3L286.9 143.2L286.9 145.2L286.9 147.1L286.9 149.0L286.9 151.0L286.9 152.5L287.8 152.9L291.7 154.8L293.2 155.6L295.6 156.8L299.6 158.7L299.6 158.7L303.6 160.6L305.9 161.7L307.7 162.5L311.9 164.5L312.3 164.6L316.1 166.4L318.6 167.5L320.5 168.3L324.8 170.3L324.9 170.3L329.3 172.2L331.3 173.0L333.9 174.1L337.6 175.7L338.5 176.1L343.2 178.0L344.0 178.3L348.1 179.9L350.3 180.8L353.0 181.8L356.6 183.2L358.0 183.8L363.0 185.6L363.2 185.7L368.5 187.6L369.3 187.9L374.0 189.6L375.7 190.2L379.6 191.5L382.0 192.3L385.4 193.4L388.3 194.4L391.3 195.4L394.7 196.4L397.5 197.3L401.0 198.4L403.9 199.2L407.4 200.2L410.6 201.1L413.7 202.0L417.5 203.1L420.0 203.8L424.8 205.0L426.4 205.4L432.4 206.9L432.7 207.0L439.1 208.5L440.5 208.9L445.4 210.0L449.2 210.8L451.7 211.3L458.1 212.7L458.4 212.7L464.4 213.9ZM473.2 44.8L477.1 45.5L477.1 44.8L477.1 42.9L477.1 41.0L477.1 39.0L477.1 37.1L477.1 35.2L477.1 33.2L470.8 33.2L464.4 33.2L458.1 33.2L451.7 33.2L445.4 33.2L439.1 33.2L432.7 33.2L426.4 33.2L420.8 33.2L426.4 34.7L428.2 35.2L432.7 36.3L436.0 37.1L439.1 37.8L444.3 39.0L445.4 39.3L451.7 40.7L453.2 41.0L458.1 42.0L462.7 42.9L464.4 43.2L470.8 44.4Z" fill="#707070" stroke="#707070" fill-rule="evenodd"/>
<path d="M406.6 222.4L407.4 222.6L413.3 224.3L413.7 224.3L420.0 224.3L426.4 224.3L432.7 224.3L439.1 224.3L445.4 224.3L451.7 224.3L458.1 224.3L464.4 224.3L470.8 224.3L477.1 224.3L477.1 222.4L477.1 220.4L477.1 218.5L477.1 216.6L477.1 216.1L470.8 215.1L468.6 214.7L464.4 213.9L458.4 212.7L458.1 212.7L451.7 211.3L449.2 210.8L445.4 210.0L440.5 208.9L439.1 208.5L432.7 207.0L432.4 206.9L426.4 205.4L424.8 205.0L420.0 203.8L417.5 203.1L413.7 202.0L410.6 201.1L407.4 200.2L403.9 199.2L401.0 198.4L397.5 197.3L394.7 196.4L391.3 195.4L388.3 194.4L385.4 193.4L382.0 192.3L379.6 191.5L375.7 190.2L374.0 189.6L369.3 187.9L368.5 187.6L363.2 185.7L363.0 185.6L358.0 183.8L356.6 183.2L353.0 181.8L350.3 180.8L348.1 179.9L344.0 178.3L343.2 178.0L338.5 176.1L337.6 175.7L333.9 174.1L331.3 173.0L329.3 172.2L324.9 170.3L324.8 170.3L320.5 168.3L318.6 167.5L316.1 166.4L312.3 164.6L311.9 164.5L307.7 162.5L305.9 161.7L303.6 160.6L299.6 158.7L299.6 158.7L295.6 156.8L293.2 155.6L291.7 154.8L287.8 152.9L286.9 152.5L286.9 152.9L286.9 154.8L286.9 156.8L286.9 158.7L286.9 160.6L286.9 162.5L286.9 164.5L286.9 166.4L286.9 168.3L286.9 170.3L286.9 172.2L286.9 174.1L286.9 174.8L289.4 176.1L293.2 178.0L293.2 178.0L297.2 179.9L299.6 181.1L301.2 181.8L305.3 183.8L305.9 184.1L309.4 185.7L312.3 187.0L313.6 187.6L317.9 189.6L318.6 189.9L322.2 191.5L324.9 192.7L326.7 193.4L331.1 195.4L331.3 195.4L335.7 197.3L337.6 198.1L340.4 199.2L344.0 200.7L345.2 201.1L350.0 203.1L350.3 203.2L355.0 205.0L356.6 205.6L360.1 206.9L363.0 208.0L365.4 208.9L369.3 210.3L370.7 210.8L375.7 212.5L376.2 212.7L381.9 214.7L382.0 214.7L387.7 216.6L388.3 216.8L393.8 218.5L394.7 218.8L400.1 220.4L401.0 220.7Z" fill="#5e5e5e" stroke="#5e5e5e" fill-rule="evenodd"/>
<path d="M336.6 222.4L337.6 222.8L341.3 224.3L344.0 224.3L350.3 224.3L356.6 224.3L363.0 224.3L369.3 224.3L375.7 224.3L382.0 224.3L388.3 224.3L394.7 224.3L401.0 224.3L407.4 224.3L413.3 224.3L407.4 222.6L406.6 222.4L401.0 220.7L400.1 220.4L394.7 218.8L393.8 218.5L388.3 216.8L387.7 216.6L382.0 214.7L381.9 214.7L376.2 212.7L375.7 212.5L370.7 210.8L369.3 210.3L365.4 208.9L363.0 208.0L360.1 206.9L356.6 205.6L355.0 205.0L350.3 203.2L350.0 203.1L345.2 201.1L344.0 200.7L340.4 199.2L337.6 198.1L335.7 197.3L331.3 195.4L331.1 195.4L326.7 193.4L324.9 192.7L322.2 191.5L318.6 189.9L317.9 189.6L313.6 187.6L312.3 187.0L309.4 185.7L305.9 184.1L305.3 183.8L301.2 181.8L299.6 181.1L297.2 179.9L293.2 178.0L293.2 178.0L289.4 176.1L286.9 174.8L286.9 176.1L286.9 178.0L286.9 179.9L286.9 181.8L286.9 183.8L286.9 185.7L286.9 187.6L286.9 189.6L286.9 191.5L286.9 193.4L286.9 195.4L286.9 197.3L286.9 199.2L286.9 199.6L290.1 201.1L293.2 202.7L294.0 203.1L298.0 205.0L299.6 205.8L302.0 206.9L305.9 208.8L306.1 208.9L310.2 210.8L312.3 211.7L314.4 212.7L318.6 214.6L318.7 214.7L323.1 216.6L324.9 217.4L327.5 218.5L331.3 220.1L332.0 220.4Z" fill="#4c4c4c" stroke="#4c4c4c" fill-rule="evenodd"/>
<path d="M286.9 224.3L293.2 224.3L299.6 224.3L305.9 224.3L312.3 224.3L318.6 224.3L324.9 224.3L331.3 224.3L337.6 224.3L341.3 224.3L337.6 222.8L336.6 222.4L332.0 220.4L331.3 220.1L327.5 218.5L324.9 217.4L323.1 216.6L318.7 214.7L318.6 214.6L314.4 212.7L312.3 211.7L310.2 210.8L306.1 208.9L305.9 208.8L302.0 206.9L299.6 205.8L298.0 205.0L294.0 203.1L293.2 202.7L290.1 201.1L286.9 199.6L286.9 201.1L286.9 203.1L286.9 205.0L286.9 206.9L286.9 208.9L286.9 210.8L286.9 212.7L286.9 214.7L286.9 216.6L286.9 218.5L286.9 220.4L286.9 222.4Z" fill="#3a3a3a" stroke="#3a3a3a" fill-rule="evenodd"/>
</g>
<defs><clipPath id="dom"><rect x="286.9" y="33.25" width="190.20" height="191.05"/></clipPath><filter id="vb" x="-5%" y="-20%" width="110%" height="140%"><feGaussianBlur stdDeviation="0.7"/></filter></defs>
<g clip-path="url(#dom)" fill="none" stroke="#fff" stroke-linecap="round"><polyline points="286.9,57.1 291.7,59.5 296.4,61.8 301.2,64.1 305.9,66.4 310.7,68.6 315.4,70.7 320.2,72.9 324.9,75.0 329.7,77.0 334.4,79.0 339.2,81.0 344.0,82.9 348.7,84.8 353.5,86.7 358.2,88.5 363.0,90.2 367.7,92.0 372.5,93.7 377.2,95.3 382.0,96.9 386.8,98.5 391.5,100.0 396.3,101.5 401.0,103.0 405.8,104.4 410.5,105.8 415.3,107.1 420.0,108.4 424.8,109.7 429.6,110.9 434.3,112.0 439.1,113.2 443.8,114.3 448.6,115.3 453.3,116.3 458.1,117.3 462.8,118.2 467.6,119.1 472.3,120.0 477.1,120.8" stroke-width="9" stroke-opacity="0.16" filter="url(#vb)"/><polyline points="286.9,57.1 291.7,59.5 296.4,61.8 301.2,64.1 305.9,66.4 310.7,68.6 315.4,70.7 320.2,72.9 324.9,75.0 329.7,77.0 334.4,79.0 339.2,81.0 344.0,82.9 348.7,84.8 353.5,86.7 358.2,88.5 363.0,90.2 367.7,92.0 372.5,93.7 377.2,95.3 382.0,96.9 386.8,98.5 391.5,100.0 396.3,101.5 401.0,103.0 405.8,104.4 410.5,105.8 415.3,107.1 420.0,108.4 424.8,109.7 429.6,110.9 434.3,112.0 439.1,113.2 443.8,114.3 448.6,115.3 453.3,116.3 458.1,117.3 462.8,118.2 467.6,119.1 472.3,120.0 477.1,120.8" stroke-width="2.6" stroke-opacity="0.5" stroke-dasharray="3.8 2.4" filter="url(#vb)"/></g>
<g fill="none" stroke="#242424" stroke-width="0.9">
<rect x="286.90" y="160.62" width="63.40" height="63.68" />
<rect x="350.30" y="160.62" width="63.40" height="63.68" />
<rect x="413.70" y="160.62" width="63.40" height="63.68" />
<rect x="350.30" y="33.25" width="63.40" height="63.68" />
<rect x="413.70" y="33.25" width="63.40" height="63.68" />
<rect x="286.90" y="33.25" width="63.40" height="21.23" />
<rect x="286.90" y="54.48" width="21.13" height="21.23" />
<rect x="308.03" y="54.48" width="21.13" height="21.23" />
<rect x="329.17" y="54.48" width="21.13" height="21.23" />
<rect x="350.30" y="96.93" width="21.13" height="63.68" />
<rect x="371.43" y="96.93" width="21.13" height="21.23" />
<rect x="371.43" y="118.16" width="21.13" height="21.23" />
<rect x="371.43" y="139.39" width="21.13" height="21.23" />
<rect x="392.57" y="96.93" width="21.13" height="21.23" />
<rect x="392.57" y="118.16" width="21.13" height="21.23" />
<rect x="392.57" y="139.39" width="21.13" height="21.23" />
<rect x="413.70" y="96.93" width="21.13" height="21.23" />
<rect x="413.70" y="139.39" width="21.13" height="21.23" />
<rect x="413.70" y="118.16" width="7.04" height="21.23" />
<rect x="420.74" y="118.16" width="7.04" height="7.08" />
<rect x="420.74" y="125.24" width="7.04" height="7.08" />
<rect x="420.74" y="132.31" width="7.04" height="7.08" />
<rect x="434.83" y="96.93" width="21.13" height="21.23" />
<rect x="434.83" y="118.16" width="21.13" height="21.23" />
<rect x="434.83" y="139.39" width="21.13" height="21.23" />
<rect x="455.97" y="96.93" width="21.13" height="63.68" />
<rect x="286.90" y="96.93" width="63.40" height="63.68" />
<rect x="286.90" y="75.71" width="63.40" height="21.23" />
<rect x="427.79" y="118.16" width="7.04" height="21.23" />
</g>
<g fill="rgb(255,244,148)" fill-opacity="0.5" stroke="none">
<rect x="286.90" y="96.93" width="63.40" height="63.68" />
<rect x="286.90" y="75.71" width="63.40" height="21.23" />
<rect x="427.79" y="118.16" width="7.04" height="21.23" />
</g>
<g fill="none" stroke="#6a6eaa" stroke-opacity="0.6" stroke-width="1.5">
<rect x="286.90" y="75.71" width="63.40" height="84.91" />
<rect x="427.79" y="118.16" width="7.04" height="21.23" />
</g>
<circle cx="318.60" cy="192.46" r="2.05" fill="#fff" fill-opacity="0.12" stroke="#303030" stroke-width="0.9"/>
<circle cx="382.00" cy="192.46" r="2.05" fill="#fff" fill-opacity="0.12" stroke="#303030" stroke-width="0.9"/>
<circle cx="445.40" cy="192.46" r="2.05" fill="#fff" fill-opacity="0.12" stroke="#303030" stroke-width="0.9"/>
<circle cx="382.00" cy="65.09" r="2.05" fill="#fff" fill-opacity="0.12" stroke="#303030" stroke-width="0.9"/>
<circle cx="445.40" cy="65.09" r="2.05" fill="#fff" fill-opacity="0.12" stroke="#303030" stroke-width="0.9"/>
<circle cx="318.60" cy="43.86" r="2.05" fill="#fff" fill-opacity="0.12" stroke="#303030" stroke-width="0.9"/>
<circle cx="297.47" cy="65.09" r="2.05" fill="#fff" fill-opacity="0.12" stroke="#303030" stroke-width="0.9"/>
<circle cx="318.60" cy="65.09" r="2.05" fill="#fff" fill-opacity="0.12" stroke="#303030" stroke-width="0.9"/>
<circle cx="339.73" cy="65.09" r="2.05" fill="#fff" fill-opacity="0.12" stroke="#303030" stroke-width="0.9"/>
<circle cx="360.87" cy="128.78" r="2.05" fill="#fff" fill-opacity="0.12" stroke="#303030" stroke-width="0.9"/>
<circle cx="382.00" cy="107.55" r="2.05" fill="#fff" fill-opacity="0.12" stroke="#303030" stroke-width="0.9"/>
<circle cx="382.00" cy="128.78" r="2.05" fill="#fff" fill-opacity="0.12" stroke="#303030" stroke-width="0.9"/>
<circle cx="382.00" cy="150.00" r="2.05" fill="#fff" fill-opacity="0.12" stroke="#303030" stroke-width="0.9"/>
<circle cx="403.13" cy="107.55" r="2.05" fill="#fff" fill-opacity="0.12" stroke="#303030" stroke-width="0.9"/>
<circle cx="403.13" cy="128.78" r="2.05" fill="#fff" fill-opacity="0.12" stroke="#303030" stroke-width="0.9"/>
<circle cx="403.13" cy="150.00" r="2.05" fill="#fff" fill-opacity="0.12" stroke="#303030" stroke-width="0.9"/>
<circle cx="424.27" cy="107.55" r="2.05" fill="#fff" fill-opacity="0.12" stroke="#303030" stroke-width="0.9"/>
<circle cx="424.27" cy="150.00" r="2.05" fill="#fff" fill-opacity="0.12" stroke="#303030" stroke-width="0.9"/>
<circle cx="417.22" cy="128.78" r="2.05" fill="#fff" fill-opacity="0.12" stroke="#303030" stroke-width="0.9"/>
<circle cx="424.27" cy="121.70" r="2.05" fill="#fff" fill-opacity="0.12" stroke="#303030" stroke-width="0.9"/>
<circle cx="424.27" cy="128.78" r="2.05" fill="#fff" fill-opacity="0.12" stroke="#303030" stroke-width="0.9"/>
<circle cx="424.27" cy="135.85" r="2.05" fill="#fff" fill-opacity="0.12" stroke="#303030" stroke-width="0.9"/>
<circle cx="445.40" cy="107.55" r="2.05" fill="#fff" fill-opacity="0.12" stroke="#303030" stroke-width="0.9"/>
<circle cx="445.40" cy="128.78" r="2.05" fill="#fff" fill-opacity="0.12" stroke="#303030" stroke-width="0.9"/>
<circle cx="445.40" cy="150.00" r="2.05" fill="#fff" fill-opacity="0.12" stroke="#303030" stroke-width="0.9"/>
<circle cx="466.53" cy="128.78" r="2.05" fill="#fff" fill-opacity="0.12" stroke="#303030" stroke-width="0.9"/>
<circle cx="318.60" cy="128.78" r="2.35" fill="#2a46b4"/>
<circle cx="318.60" cy="86.32" r="2.35" fill="#2a46b4"/>
<circle cx="431.31" cy="128.78" r="2.35" fill="#2a46b4"/>
<text x="287.20" y="245.6" font-size="11.5" text-anchor="middle">0</text>
<text x="274" y="228.20" font-size="11.5" text-anchor="end">0</text>
<g stroke="#2b2b2b" stroke-width="0.22"><text x="318.70" y="244.10" font-size="8.3" text-anchor="middle" style="stroke:#2b2b2b">1</text><text x="318.70" y="252.20" font-size="8.3" text-anchor="middle" style="stroke:#2b2b2b">6</text></g><path d="M316.30 245.30h4.8" stroke="#2b2b2b" stroke-width="0.6"/>
<g stroke="#2b2b2b" stroke-width="0.22"><text x="270.90" y="191.76" font-size="8.3" text-anchor="middle" style="stroke:#2b2b2b">1</text><text x="270.90" y="199.86" font-size="8.3" text-anchor="middle" style="stroke:#2b2b2b">6</text></g><path d="M268.50 192.96h4.8" stroke="#2b2b2b" stroke-width="0.6"/>
<g stroke="#2b2b2b" stroke-width="0.22"><text x="350.40" y="244.10" font-size="8.3" text-anchor="middle" style="stroke:#2b2b2b">1</text><text x="350.40" y="252.20" font-size="8.3" text-anchor="middle" style="stroke:#2b2b2b">3</text></g><path d="M348.00 245.30h4.8" stroke="#2b2b2b" stroke-width="0.6"/>
<g stroke="#2b2b2b" stroke-width="0.22"><text x="270.90" y="159.92" font-size="8.3" text-anchor="middle" style="stroke:#2b2b2b">1</text><text x="270.90" y="168.02" font-size="8.3" text-anchor="middle" style="stroke:#2b2b2b">3</text></g><path d="M268.50 161.12h4.8" stroke="#2b2b2b" stroke-width="0.6"/>
<g stroke="#2b2b2b" stroke-width="0.22"><text x="382.10" y="244.10" font-size="8.3" text-anchor="middle" style="stroke:#2b2b2b">1</text><text x="382.10" y="252.20" font-size="8.3" text-anchor="middle" style="stroke:#2b2b2b">2</text></g><path d="M379.70 245.30h4.8" stroke="#2b2b2b" stroke-width="0.6"/>
<g stroke="#2b2b2b" stroke-width="0.22"><text x="270.90" y="128.08" font-size="8.3" text-anchor="middle" style="stroke:#2b2b2b">1</text><text x="270.90" y="136.18" font-size="8.3" text-anchor="middle" style="stroke:#2b2b2b">2</text></g><path d="M268.50 129.28h4.8" stroke="#2b2b2b" stroke-width="0.6"/>
<g stroke="#2b2b2b" stroke-width="0.22"><text x="413.80" y="244.10" font-size="8.3" text-anchor="middle" style="stroke:#2b2b2b">2</text><text x="413.80" y="252.20" font-size="8.3" text-anchor="middle" style="stroke:#2b2b2b">3</text></g><path d="M411.40 245.30h4.8" stroke="#2b2b2b" stroke-width="0.6"/>
<g stroke="#2b2b2b" stroke-width="0.22"><text x="270.90" y="96.23" font-size="8.3" text-anchor="middle" style="stroke:#2b2b2b">2</text><text x="270.90" y="104.33" font-size="8.3" text-anchor="middle" style="stroke:#2b2b2b">3</text></g><path d="M268.50 97.43h4.8" stroke="#2b2b2b" stroke-width="0.6"/>
<g stroke="#2b2b2b" stroke-width="0.22"><text x="445.50" y="244.10" font-size="8.3" text-anchor="middle" style="stroke:#2b2b2b">5</text><text x="445.50" y="252.20" font-size="8.3" text-anchor="middle" style="stroke:#2b2b2b">6</text></g><path d="M443.10 245.30h4.8" stroke="#2b2b2b" stroke-width="0.6"/>
<g stroke="#2b2b2b" stroke-width="0.22"><text x="270.90" y="64.39" font-size="8.3" text-anchor="middle" style="stroke:#2b2b2b">5</text><text x="270.90" y="72.49" font-size="8.3" text-anchor="middle" style="stroke:#2b2b2b">6</text></g><path d="M268.50 65.59h4.8" stroke="#2b2b2b" stroke-width="0.6"/>
<text x="477.40" y="245.6" font-size="11.5" text-anchor="middle">1</text>
<text x="274" y="37.15" font-size="11.5" text-anchor="end">1</text>
<text x="378.3" y="261.6" font-size="11.6" font-style="italic" style="stroke:#2b2b2b;stroke-width:0.15">c<tspan font-size="8" font-style="normal" dx="0.3" dy="1.9">1</tspan></text>
<text transform="translate(261.6 133.0) rotate(-90)" font-size="11" font-style="italic" style="stroke:#2b2b2b;stroke-width:0.15">c<tspan font-size="8" font-style="normal" dx="0.4" dy="1.9">2</tspan></text>
<text x="310.1" y="11.9" font-size="10" xml:space="preserve"><tspan font-family='"Liberation Mono", "DejaVu Sans Mono", monospace' font-size="8.2" textLength="29.5" lengthAdjust="spacingAndGlyphs">DIRECT</tspan><tspan dx="2.6" textLength="112.3" lengthAdjust="spacingAndGlyphs">sampling and partitioning</tspan></text>
<text x="481.6" y="11.9" font-size="10" textLength="41.4" lengthAdjust="spacingAndGlyphs">Color key</text>
<rect x="495.5" y="217.56" width="14.0" height="16.44" fill="#ffffff"/>
<rect x="495.5" y="201.42" width="14.0" height="16.44" fill="#ededed"/>
<rect x="495.5" y="185.28" width="14.0" height="16.44" fill="#dbdbdb"/>
<rect x="495.5" y="169.15" width="14.0" height="16.44" fill="#c9c9c9"/>
<rect x="495.5" y="153.01" width="14.0" height="16.44" fill="#b7b7b7"/>
<rect x="495.5" y="136.87" width="14.0" height="16.44" fill="#a5a5a5"/>
<rect x="495.5" y="120.73" width="14.0" height="16.44" fill="#949494"/>
<rect x="495.5" y="104.59" width="14.0" height="16.44" fill="#828282"/>
<rect x="495.5" y="88.45" width="14.0" height="16.44" fill="#707070"/>
<rect x="495.5" y="72.32" width="14.0" height="16.44" fill="#5e5e5e"/>
<rect x="495.5" y="56.18" width="14.0" height="16.44" fill="#4c4c4c"/>
<rect x="495.5" y="40.04" width="14.0" height="16.44" fill="#3a3a3a"/>
<rect x="495.5" y="23.90" width="14.0" height="16.44" fill="#282828"/>
<rect x="495.5" y="23.9" width="14.0" height="209.80" fill="none" stroke="#8c8c8c" stroke-width="0.9"/>
<text x="513" y="237.60" font-size="11.5" textLength="5.6" lengthAdjust="spacingAndGlyphs">0</text>
<text x="513" y="195.64" font-size="11.5" textLength="11.2" lengthAdjust="spacingAndGlyphs">50</text>
<text x="513" y="153.68" font-size="11.5" textLength="16.8" lengthAdjust="spacingAndGlyphs">100</text>
<text x="513" y="111.72" font-size="11.5" textLength="16.8" lengthAdjust="spacingAndGlyphs">150</text>
<text x="513" y="69.76" font-size="11.5" textLength="16.8" lengthAdjust="spacingAndGlyphs">200</text>
<text x="513" y="27.80" font-size="11.5" textLength="16.8" lengthAdjust="spacingAndGlyphs">250</text>
<text transform="translate(543.6 128.7) rotate(-90)" font-size="9.8" text-anchor="middle" textLength="60.9" lengthAdjust="spacingAndGlyphs">function value</text>
</svg>
</body></html>
